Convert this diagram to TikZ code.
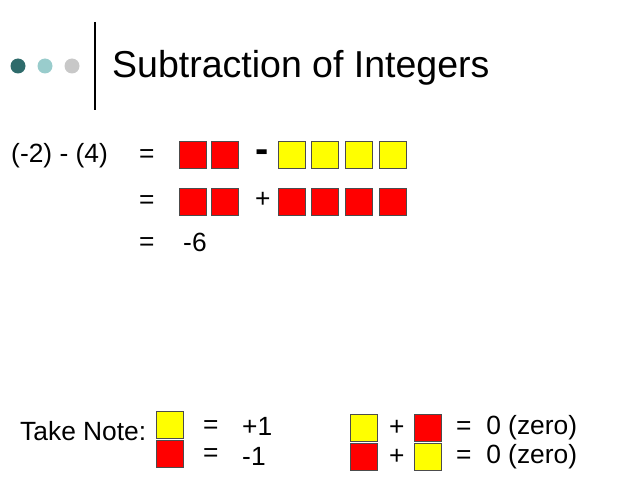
\documentclass[tikz,border=0pt]{standalone}
\usepackage{fontspec}
\setmainfont{Liberation Sans}
\definecolor{tealdark}{HTML}{2E6B6B}
\definecolor{teallight}{HTML}{99CCCC}
\definecolor{dotgrey}{HTML}{C8C8C8}
\definecolor{tilered}{HTML}{FF0000}
\definecolor{tileyellow}{HTML}{FFFF00}
\tikzset{
  tile/.style={draw=black!70, line width=0.4pt, minimum size=0.8cm, inner sep=0pt},
  redtile/.style={tile, fill=tilered},
  yellowtile/.style={tile, fill=tileyellow},
  txt/.style={font=\fontsize{22.5}{26}\selectfont, inner sep=0pt, anchor=west},
}
\begin{document}
\begin{tikzpicture}[x=0.03cm,y=-0.03cm]
\useasboundingbox (0,0) rectangle (638,478);
% title bar
\fill[tealdark] (18,66) circle (7.5);
\fill[teallight] (45,66) circle (7.5);
\fill[dotgrey] (72,66) circle (7.5);
\draw[line width=2.5pt] (95,22) -- (95,110);
\node[anchor=west, inner sep=0pt, font=\fontsize{32}{36}\selectfont] (title) at (112,68) {Subtraction of Integers};

% first line
\node[txt] (expr) at (11,156) {(-2) - (4)};
\node[txt] (eqa) at (139,156) {=};
\node[redtile] (ra1) at (193,155) {};
\node[redtile] (ra2) at (225,155) {};
\node[anchor=center, inner sep=0pt, font=\fontsize{34}{38}\selectfont\bfseries] (minus) at (262,156) {-};
\node[yellowtile] (ya1) at (292,155) {};
\node[yellowtile] (ya2) at (325,155) {};
\node[yellowtile] (ya3) at (359,155) {};
\node[yellowtile] (ya4) at (393,155) {};

% second line
\node[txt] (eqb) at (139,202) {=};
\node[redtile] (rb1) at (193,202) {};
\node[redtile] (rb2) at (225,202) {};
\node[txt] (plus) at (255,200) {+};
\node[redtile] (rc1) at (292,202) {};
\node[redtile] (rc2) at (325,202) {};
\node[redtile] (rc3) at (359,202) {};
\node[redtile] (rc4) at (393,202) {};

% third line
\node[txt] (eqc) at (139,244) {=};
\node[txt] (res) at (183,242) {-6};

% note
\node[txt] (note) at (20,431) {Take Note:};
\node[yellowtile] (ny) at (170,425) {};
\node[redtile] (nr) at (170,454) {};
\node[txt] (eqd) at (203,427) {=};
\node[txt] (pone) at (242,426) {+1};
\node[txt] (eqe) at (203,455) {=};
\node[txt] (mone) at (242,456) {-1};

\node[yellowtile] (sy1) at (364,428) {};
\node[txt] (pl1) at (389,428) {+};
\node[redtile] (sr1) at (428,428) {};
\node[txt] (z1) at (456,428) {=\ \ 0 (zero)};
\node[redtile] (sr2) at (364,457) {};
\node[txt] (pl2) at (389,457) {+};
\node[yellowtile] (sy2) at (428,457) {};
\node[txt] (z2) at (456,457) {=\ \ 0 (zero)};
\end{tikzpicture}
\end{document}
